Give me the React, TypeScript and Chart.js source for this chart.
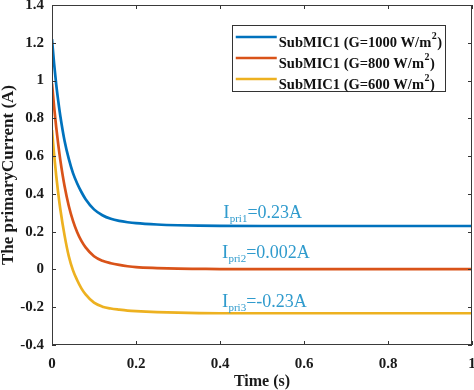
import React, { useEffect, useRef } from 'react';
import { Chart, registerables } from 'chart.js';

Chart.register(...registerables);

const times = [0, 0.005, 0.01, 0.015, 0.02, 0.03, 0.04, 0.05, 0.06, 0.07, 0.08, 0.1, 0.12, 0.14, 0.16, 0.18, 0.2, 0.25, 0.3, 0.35, 0.4, 0.5, 0.6, 0.7, 0.8, 0.9, 1.0];
const current1000 = [1.22, 1.09, 0.98, 0.89, 0.81, 0.68, 0.585, 0.51, 0.455, 0.41, 0.372, 0.318, 0.287, 0.268, 0.257, 0.25, 0.245, 0.238, 0.234, 0.232, 0.231, 0.23, 0.23, 0.23, 0.23, 0.23, 0.23];
const current800 = [0.985, 0.862, 0.754, 0.659, 0.576, 0.44, 0.336, 0.257, 0.197, 0.151, 0.117, 0.07, 0.046, 0.033, 0.024, 0.017, 0.012, 0.007, 0.004, 0.003, 0.002, 0.002, 0.002, 0.002, 0.002, 0.002, 0.002];
const current600 = [0.738, 0.609, 0.497, 0.4, 0.316, 0.179, 0.07, -0.005, -0.057, -0.1, -0.132, -0.176, -0.197, -0.207, -0.213, -0.218, -0.221, -0.226, -0.229, -0.231, -0.232, -0.232, -0.232, -0.232, -0.232, -0.232, -0.232];

const seriesLabels = ['SubMIC1 (G=1000 W/m²)', 'SubMIC1 (G=800 W/m²)', 'SubMIC1 (G=600 W/m²)'];
const seriesColors = ['#0072BD', '#D95319', '#EDB120'];

const xTickLabels = ['0', '0.2', '0.4', '0.6', '0.8', '1'];
const yTickLabels = ['-0.4', '-0.2', '0', '0.2', '0.4', '0.6', '0.8', '1', '1.2', '1.4'];

const annoMain = ['I', 'I', 'I'];
const annoSub = ['pri1', 'pri2', 'pri3'];
const annoRest = ['=0.23A', '=0.002A', '=-0.23A'];
const annoX = [0.408, 0.405, 0.405];
const annoY = [0.272, 0.06, -0.197];

const SERIF = "'Liberation Serif', 'Times New Roman', serif";

const decorPlugin = {
  id: 'decor',
  afterDraw(chart: any) {
    const { ctx, chartArea: a } = chart;
    const xs = chart.scales.x;
    const ys = chart.scales.y;
    ctx.save();
    // inward ticks
    ctx.strokeStyle = '#333';
    ctx.lineWidth = 1;
    ctx.beginPath();
    xs.ticks.forEach((t: any) => {
      const px = Math.round(xs.getPixelForValue(t.value)) + 0.5;
      ctx.moveTo(px, a.bottom);
      ctx.lineTo(px, a.bottom - 4);
      ctx.moveTo(px, a.top);
      ctx.lineTo(px, a.top + 4);
    });
    ys.ticks.forEach((t: any) => {
      const py = Math.round(ys.getPixelForValue(t.value)) + 0.5;
      ctx.moveTo(a.left, py);
      ctx.lineTo(a.left + 4, py);
      ctx.moveTo(a.right, py);
      ctx.lineTo(a.right - 4, py);
    });
    ctx.stroke();
    // box
    ctx.strokeStyle = '#3a3a3a';
    ctx.strokeRect(Math.round(a.left) + 0.5, Math.round(a.top) + 0.5, Math.round(a.width) - 1, Math.round(a.height) - 1);

    // annotations
    ctx.fillStyle = 'rgb(48,155,205)';
    ctx.textBaseline = 'alphabetic';
    ctx.textAlign = 'left';
    for (let i = 0; i < annoMain.length; i++) {
      let px = xs.getPixelForValue(annoX[i]);
      const py = ys.getPixelForValue(annoY[i]);
      ctx.font = `19px ${SERIF}`;
      ctx.fillText(annoMain[i], px, py);
      px += ctx.measureText(annoMain[i]).width;
      ctx.font = `11px ${SERIF}`;
      ctx.fillText(annoSub[i], px, py + 4);
      px += ctx.measureText(annoSub[i]).width;
      ctx.font = `18px ${SERIF}`;
      ctx.fillText(annoRest[i], px, py);
    }

    // legend
    const lx = xs.getPixelForValue(0.428);
    const ly = 25;
    const lw = 213;
    const lh = 66;
    ctx.fillStyle = '#fff';
    ctx.fillRect(lx, ly, lw, lh);
    ctx.strokeStyle = '#333';
    ctx.lineWidth = 1;
    ctx.strokeRect(Math.round(lx) + 0.5, ly + 0.5, lw, lh);
    chart.data.datasets.forEach((ds: any, i: number) => {
      const rowY = ly + 12 + i * 21;
      ctx.strokeStyle = ds.borderColor;
      ctx.lineWidth = 2.5;
      ctx.beginPath();
      ctx.moveTo(lx + 4, rowY);
      ctx.lineTo(lx + 45, rowY);
      ctx.stroke();
      const parts = String(ds.label).split('²');
      const base = rowY + 9.5;
      let tx = lx + 47;
      ctx.fillStyle = '#111';
      ctx.font = `bold 14.5px ${SERIF}`;
      ctx.fillText(parts[0], tx, base);
      tx += ctx.measureText(parts[0]).width;
      ctx.font = `bold 10px ${SERIF}`;
      ctx.fillText('2', tx + 0.5, base - 8);
      tx += ctx.measureText('2').width + 1;
      ctx.font = `bold 14.5px ${SERIF}`;
      ctx.fillText(parts[1] || '', tx, base);
    });
    ctx.restore();
  },
};

export default function App() {
  const ref = useRef<HTMLCanvasElement | null>(null);
  useEffect(() => {
    if (!ref.current) return;
    const mk = (vals: number[]) => times.map((t, i) => ({ x: t, y: vals[i] }));
    const chart = new Chart(ref.current, {
      type: 'line',
      data: {
        datasets: [current1000, current800, current600].map((vals, i) => ({
          label: seriesLabels[i],
          data: mk(vals),
          borderColor: seriesColors[i],
          backgroundColor: seriesColors[i],
          borderWidth: 2.7,
          pointRadius: 0,
          cubicInterpolationMode: 'monotone' as const,
          fill: false,
        })),
      },
      options: {
        animation: false,
        responsive: false,
        devicePixelRatio: 1,
        layout: { padding: { left: 0, right: 2, top: 5, bottom: 0 } },
        plugins: { legend: { display: false }, tooltip: { enabled: false } },
        scales: {
          x: {
            type: 'linear',
            min: 0,
            max: 1,
            grid: { display: false, drawTicks: false },
            border: { display: false },
            ticks: {
              stepSize: 0.2,
              padding: 10,
              color: '#1a1a1a',
              font: { family: SERIF, size: 15, weight: 'bold' },
              maxRotation: 0,
              callback: (_v: any, i: number) => xTickLabels[i],
            },
            title: {
              display: true,
              text: 'Time (s)',
              color: '#1a1a1a',
              font: { family: SERIF, size: 16, weight: 'bold', lineHeight: 1 },
              padding: { top: 0, bottom: 0 },
            },
            afterFit: (s: any) => {
              s.height = 45;
              s.paddingLeft = 0;
              s.paddingRight = 0;
            },
          },
          y: {
            type: 'linear',
            min: -0.4,
            max: 1.4,
            grid: { display: false, drawTicks: false },
            border: { display: false },
            ticks: {
              stepSize: 0.2,
              padding: 8,
              color: '#1a1a1a',
              font: { family: SERIF, size: 15, weight: 'bold' },
              callback: (_v: any, i: number) => yTickLabels[i],
            },
            title: {
              display: true,
              text: 'The primaryCurrent (A)',
              color: '#1a1a1a',
              font: { family: SERIF, size: 17, weight: 'bold', lineHeight: 1 },
              padding: { top: 0, bottom: 0 },
            },
            afterFit: (s: any) => {
              s.width = 52;
              s.paddingTop = 0;
              s.paddingBottom = 0;
            },
          },
        },
      },
      plugins: [decorPlugin],
    });
    return () => chart.destroy();
  }, []);
  return (
    <div style={{ position: 'absolute', left: 0, top: 0, width: 474, height: 390, background: '#fff' }}>
      <canvas ref={ref} width={474} height={390} style={{ width: 474, height: 390, display: 'block' }} />
    </div>
  );
}
